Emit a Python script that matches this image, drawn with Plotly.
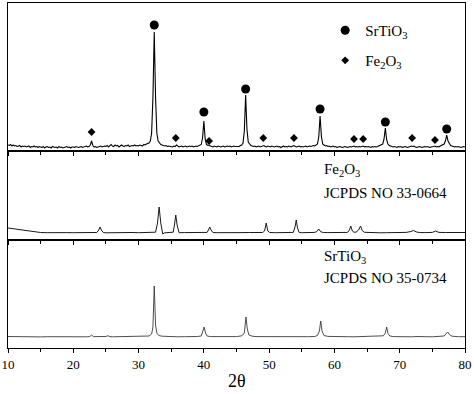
import numpy as np
import plotly.graph_objects as go
from plotly.subplots import make_subplots

# ---------------- data (intensity in arbitrary units) ----------------
# Top panel: composite sample, uniform 0.2 deg scan from 10 to 80
top_start, top_step = 10.0, 0.2
top_intensity = [
    # 10.0 - 14.8
    2, 1.5, 2.5, 1, 2, 1, 1.5, 0.5, 1, 1.5, 0, 1, 0.5, 1, 0, 0.5, 1, -0.5, 0.5, 0, 1, 0, 0.5, -0.5, 0.5,
    # 15.0 - 19.8
    0, -0.5, 0.5, -1, 0, 0.5, -0.5, 0, -1, 0.5, 0, -0.5, 0, -1, 0.5, -0.5, 0, -1, -0.5, 0, 0.5, -0.5, 0, -1, 0,
    # 20.0 - 24.8
    0, -0.5, 0.5, 0, -0.5, 0, 0.5, -0.5, 0, 0.5, 1, 0, 0.5, 2, 6, 1.5, 0, 0.5, -0.5, 0, 0.5, 1, 0, 0.5, 1,
    # 25.0 - 29.8
    0.5, 1.5, 0, 1, 2.5, 1, 0.5, 2, 1, 1.5, 0, 1, 2, 1, 0.5, 1.5, 1, 2, 0.5, 1, 1.5, 1, 2, 1, 1.5,
    # 30.0 - 34.8
    1, 2, 1.5, 1, 2.5, 2, 3, 3.5, 4, 6, 14, 50, 115, 50, 14, 6, 3.5, 2.5, 2, 1.5, 1, 1.5, 0.5, 1, 0.5,
    # 35.0 - 39.8
    0.5, 0, 1, 0.5, 2, 1, 0, 0.5, 1, 0, 0.5, 1, 0, 0.5, 1, 0.5, 1, 0, 0.5, 1, 0.5, 1, 1.5, 2.5, 9,
    # 40.0 - 44.8
    26, 8, 2.5, 1.5, 2, 1, 0.5, 0, 1, 0.5, 0, 1, 0.5, 0, 0.5, 1, 0, 0.5, 1, 0.5, 1, 0, 0.5, 1, 0.5,
    # 45.0 - 49.8
    0.5, 1, 0.5, 1.5, 2, 4, 16, 52, 18, 5, 2.5, 1.5, 1, 0.5, 1, 0, 0.5, 1, 0, 0.5, 1, 1.5, 0.5, 0, 1,
    # 50.0 - 54.8
    0.5, 0, 1, 0.5, 0, 0.5, 1, 0, 0.5, -0.5, 0.5, 1, 0, 0.5, 0, 1, 0.5, 0, 1, 1.5, 0.5, 0, 0.5, 1, 0,
    # 55.0 - 59.8
    0.5, 0, 0.5, 1, 0, 0.5, 1, 0.5, 1, 1.5, 1, 2, 3, 10, 31, 11, 3, 2, 1, 1.5, 0.5, 1, 0, 0.5, 1,
    # 60.0 - 64.8
    0, 0.5, -0.5, 0, 0.5, 0, -0.5, 0, 0.5, 0, -0.5, 0, 0.5, 0, 0.5, 1, 0, 0.5, 0, 0.5, 0, 0.5, 1, 0, 0.5,
    # 65.0 - 69.8
    0, 0.5, 0, -0.5, 0.5, 0, 0.5, 0, 0.5, 1, 1.5, 2, 3, 8, 19, 7, 3, 1.5, 1, 0.5, 0, 0.5, 0, -0.5, 0.5,
    # 70.0 - 74.8
    0, 0.5, -0.5, 0, 0.5, 0, -0.5, 0, 0.5, 1, 0.5, 1, 0, -0.5, 0, 0.5, 0, -0.5, 0, 0.5, 0, 0.5, 0, -0.5, 0,
    # 75.0 - 79.8
    0, 0.5, 1, 0, 0.5, 0, 1, 1.5, 2, 3, 6, 12, 6, 3, 1.5, 1, 0.5, 0, 0.5, 0, 0.5, 0, -0.5, 0, 0.5,
    # 80.0
    0,
]
top_two_theta = np.round(top_start + top_step * np.arange(len(top_intensity)), 1)

# Phase markers in the top panel
srtio3_peak_x = [32.4, 40.0, 46.4, 57.8, 67.8, 77.2]
srtio3_mark_y = [122, 35, 58, 38, 25, 18]
fe2o3_peak_x = [22.8, 35.7, 40.8, 49.1, 53.8, 63.0, 64.4, 71.9, 75.4]
fe2o3_mark_y = [15, 9, 6, 9, 9, 8, 8, 9, 7]

# Middle panel: Fe2O3 reference pattern (JCPDS 33-0664)
fe_two_theta = [10, 10.5, 11, 11.5, 12, 12.5, 13, 13.2, 13.5, 14, 15, 16, 17, 18, 19, 20, 21, 22, 23,
                23.6, 23.9, 24.1, 24.3, 24.6, 25, 26, 27, 28, 29, 30, 31, 32, 32.6, 32.9, 33.15, 33.4,
                33.7, 34, 35, 35.3, 35.5, 35.7, 35.9, 36.2, 37, 38, 39, 40, 40.5, 40.7, 40.9, 41.1, 41.4,
                42, 43, 44, 45, 46, 47, 48, 49, 49.3, 49.55, 49.8, 50.1, 51, 52, 53, 53.7, 54.0, 54.15,
                54.35, 54.6, 55, 56, 57, 57.3, 57.6, 57.9, 58.3, 59, 60, 61, 62, 62.3, 62.5, 62.75, 63.0,
                63.3, 63.7, 64.0, 64.25, 64.6, 65, 66, 67, 68, 69, 70, 71, 71.7, 72.1, 72.6, 73, 74, 75,
                75.5, 76, 77, 78, 79, 80]
fe_intensity = [5, 4.5, 4, 3.5, 3, 2.5, 2, 2.5, 1.5, 1, 0.5, 0.3, 0.5, 0.2, 0.4, 0.3, 0.5, 0.2, 0.4,
                0.5, 3, 6, 3, 0.5, 0.2, 0.4, 0.3, 0.4, 0.5, 0.3, 0.5, 0.4, 0.8, 10, 26, 10,
                -1, 0.2, 0.3, 0.8, 8, 18, 8, 0.3, 0.4, 0.3, 0.6, 0.4, 0.6, 3, 6, 3, 0.4,
                0.3, 0.5, 0.3, 0.6, 0.4, 0.5, 0.4, 0.5, 2, 10, 2, 0.5, 0.3, 0.5, 0.4, 0.6, 7, 13,
                5, 0.5, 0.3, 0.4, 0.6, 1.5, 4, 1.2, 0.5, 0.4, 0.3, 0.5, 0.6, 3, 7, 2, 0.8,
                0.8, 3, 7, 2.5, 0.7, 0.5, 0.3, 0.2, 0.3, 0.2, 0.4, 0.6, 1.5, 2.5, 1, 0.5, 0.4, 0.6,
                2, 0.6, 0.5, 0.4, 0.6, 0.5]

# Bottom panel: SrTiO3 reference pattern (JCPDS 35-0734)
st_two_theta = [10, 11, 12, 13, 14, 15, 16, 17, 18, 19, 20, 21, 22, 22.5, 22.8, 23.1, 24, 25, 25.3, 25.6,
                26, 27, 28, 29, 30, 31, 31.6, 32.0, 32.2, 32.4, 32.6, 32.8, 33.1, 33.6, 34.5, 35, 36, 37,
                38, 39, 39.6, 39.85, 40.05, 40.25, 40.5, 41, 42, 43, 44, 45, 45.8, 46.2, 46.45, 46.65,
                46.9, 47.4, 48, 49, 50, 51, 52, 52.5, 53, 54, 55, 56, 57, 57.4, 57.7, 57.9, 58.1, 58.4,
                59, 60, 61, 62, 63, 64, 65, 66, 67, 67.5, 67.8, 68.0, 68.2, 68.5, 69, 70, 71, 72, 72.5,
                73, 74, 75, 76, 76.8, 77.2, 77.35, 77.6, 78, 79, 80]
st_intensity = [0.5, 0.3, 0.5, 0.2, 0.3, 0.1, 0.3, 0.2, 0.3, 0.1, 0.2, 0.3, 0.2, 0.5, 1.8, 0.4, 0.2, 0.5, 1.3, 0.4,
                0.2, 0.3, 0.2, 0.3, 0.4, 0.6, 1, 3, 10, 51, 12, 4, 1.5, 0.8, 0.4, 0.3, 0.2, 0.3,
                0.2, 0.5, 1, 5, 10, 4, 1, 0.4, 0.3, 0.2, 0.3, 0.4, 1.2, 4, 20, 8,
                2, 0.8, 0.4, 0.3, 0.2, 0.3, 0.2, 0.6, 0.2, 0.3, 0.2, 0.3, 0.5, 1.5, 6, 16, 6, 1.5,
                0.6, 0.3, 0.2, 0.3, 0.2, 0.3, 0.2, 0.3, 0.5, 1.2, 4, 10, 3.5, 1, 0.4, 0.2, 0.3, 0.2, 0.5,
                0.2, 0.3, 0.2, 0.3, 1, 4, 5, 2.5, 0.8, 0.3, 0.3]

x_ticks = [10, 20, 30, 40, 50, 60, 70, 80]

# ---------------- figure ----------------
FONT = "Liberation Serif, Times New Roman, serif"

fig = make_subplots(rows=3, cols=1, shared_xaxes=True, vertical_spacing=0,
                    row_heights=[148, 89, 108])

fig.add_trace(go.Scatter(x=top_two_theta, y=top_intensity, mode="lines",
                         line=dict(color="#000000", width=1.1), showlegend=False,
                         hoverinfo="skip"), row=1, col=1)
fig.add_trace(go.Scatter(x=srtio3_peak_x, y=srtio3_mark_y, mode="markers",
                         marker=dict(symbol="circle", size=9, color="black"),
                         name="SrTiO<sub>3</sub>", legendgroup="a"), row=1, col=1)
fig.add_trace(go.Scatter(x=fe2o3_peak_x, y=fe2o3_mark_y, mode="markers",
                         marker=dict(symbol="diamond", size=6, color="black"),
                         name="Fe<sub>2</sub>O<sub>3</sub>", legendgroup="b"), row=1, col=1)
fig.add_trace(go.Scatter(x=fe_two_theta, y=fe_intensity, mode="lines",
                         line=dict(color="#1a1a1a", width=1), showlegend=False,
                         hoverinfo="skip"), row=2, col=1)
fig.add_trace(go.Scatter(x=st_two_theta, y=st_intensity, mode="lines",
                         line=dict(color="#3a3a3a", width=0.9), showlegend=False,
                         hoverinfo="skip"), row=3, col=1)

axis_common = dict(showline=True, linecolor="black", linewidth=1, mirror=True,
                   showgrid=False, zeroline=False, automargin=False)
for r in (1, 2, 3):
    fig.update_xaxes(range=[10, 80], tickvals=x_ticks, ticks="outside", ticklen=4,
                     tickcolor="black", minor=dict(dtick=5, tick0=10, ticks="outside",
                                                   ticklen=3, tickcolor="black"),
                     showticklabels=(r == 3), row=r, col=1, **axis_common)
fig.update_yaxes(range=[-4, 144], showticklabels=False, ticks="", row=1, col=1, **axis_common)
fig.update_yaxes(range=[-7, 82], showticklabels=False, ticks="", row=2, col=1, **axis_common)
fig.update_yaxes(range=[-11, 97], showticklabels=False, ticks="", row=3, col=1, **axis_common)

fig.update_xaxes(tickfont=dict(size=13, family=FONT, color="black"), row=3, col=1)

ann_font = dict(size=15, family=FONT, color="black")
for txt, yp in [("Fe<sub>2</sub>O<sub>3</sub>", 0.515), ("JCPDS NO 33-0664", 0.449),
                ("SrTiO<sub>3</sub>", 0.264), ("JCPDS NO 35-0734", 0.203)]:
    fig.add_annotation(text=txt, xref="paper", yref="paper", x=0.687, y=yp,
                       xanchor="left", yanchor="middle", showarrow=False, font=ann_font)

# x-axis title
fig.add_annotation(text="2θ", xref="paper", yref="paper", x=0.5, y=-0.096,
                   xanchor="center", yanchor="middle", showarrow=False,
                   font=dict(size=18, family=FONT, color="black"))

fig.update_layout(
    width=474, height=394,
    margin=dict(l=8, r=9, t=3, b=46),
    paper_bgcolor="white", plot_bgcolor="white",
    font=dict(family=FONT, color="black"),
    legend=dict(x=0.694, y=0.968, xanchor="left", yanchor="top",
                traceorder="grouped", tracegroupgap=7.5,
                font=dict(size=15, family=FONT, color="black"),
                bgcolor="rgba(0,0,0,0)"),
)

# remove the browser's default page margin so the figure sits at the window origin
fig.write_html("out.html", config={"displayModeBar": False},
               post_script="document.body.style.margin='0';document.body.style.overflow='hidden';")
